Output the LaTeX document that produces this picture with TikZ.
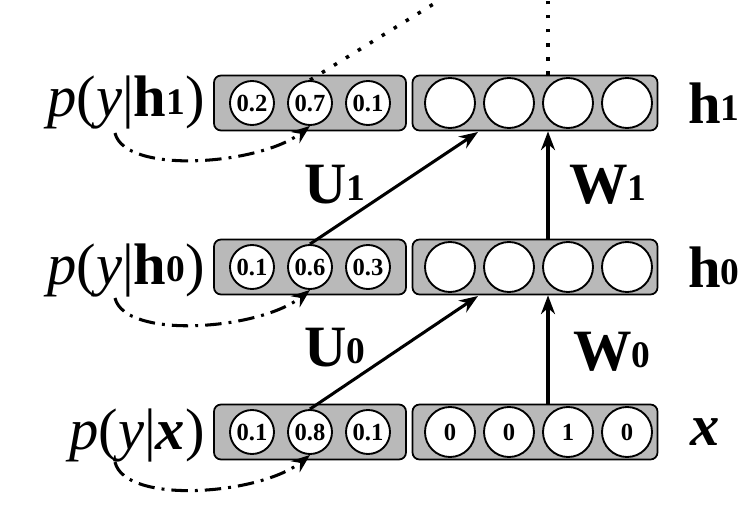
\documentclass[tikz,border=0pt]{standalone}
\usetikzlibrary{arrows.meta}
\usepackage{fontspec}
\setmainfont{Liberation Serif}
\newcommand{\lowsub}[1]{\raisebox{0.05em}{\fontsize{32}{34}\selectfont\bfseries #1}}
\begin{document}
\begin{tikzpicture}[x=0.03cm,y=-0.03cm,
  layer/.style={draw,line width=1.5pt,fill=gray!55,rounded corners=6pt,inner sep=0pt},
  unit/.style={circle,draw,line width=1.6pt,fill=white,minimum size=44*0.03cm,inner sep=0pt,font=\fontsize{21}{22}\selectfont\bfseries},
  big/.style={font=\fontsize{50}{52}\selectfont},
  bigb/.style={font=\fontsize{50}{52}\selectfont\bfseries},
  arr/.style={-{Stealth[length=16pt,width=12pt]},line width=2.6pt},
  dda/.style={-{Stealth[length=16pt,width=12pt]},line width=2.6pt,dash pattern=on 14pt off 6pt on 2.5pt off 6pt}]
\useasboundingbox (0,0) rectangle (755,513);
\coordinate (vx) at (548,0);
\foreach \r/\y in {2/103,1/267,0/432}{
  \node[layer,minimum width=192*0.03cm,minimum height=55*0.03cm] (L\r) at (310,\y) {};
  \node[layer,minimum width=245*0.03cm,minimum height=55*0.03cm] (R\r) at (535,\y) {};
}
\foreach \r/\y/\a/\b/\c in {2/103/0.2/0.7/0.1,1/267/0.1/0.6/0.3,0/432/0.1/0.8/0.1}{
  \node[unit] (p\r a) at (252,\y) {\a};
  \node[unit] (p\r b) at (310,\y) {\b};
  \node[unit] (p\r c) at (368,\y) {\c};
}
\foreach \r/\y/\a/\b/\c/\d in {2/103/{}/{}/{}/{},1/267/{}/{}/{}/{},0/432/0/0/1/0}{
  \node[unit,minimum size=50*0.03cm] (h\r a) at (450,\y) {\a};
  \node[unit,minimum size=50*0.03cm] (h\r b) at (509,\y) {\b};
  \node[unit,minimum size=50*0.03cm] (h\r c) at (568,\y) {\c};
  \node[unit,minimum size=50*0.03cm] (h\r d) at (627,\y) {\d};
}
% labels
\node[big,anchor=east,inner sep=0pt] (q2) at (205,103) {\textit{p}(\textit{y}|\textbf{h}\lowsub{1})};
\node[big,anchor=east,inner sep=0pt] (q1) at (205,270) {\textit{p}(\textit{y}|\textbf{h}\lowsub{0})};
\node[big,anchor=east,inner sep=0pt] (q0) at (205,435) {\textit{p}(\textit{y}|\textbf{\textit{x}})};
\node[bigb,anchor=west,inner sep=0pt] (n2) at (688,103) {h\lowsub{1}};
\node[bigb,anchor=west,inner sep=0pt] (n1) at (688,267) {h\lowsub{0}};
\node[bigb,anchor=west,inner sep=0pt] (n0) at (690,432) {\textit{x}};
% weights
\coordinate (t2) at (478,132);
\coordinate (t1) at (478,296);
\draw[arr] (p1b.north) -- (t2);
\draw[arr] (p0b.north) -- (t1);
\draw[arr] (R1.north -| vx) -- (R2.south -| vx);
\draw[arr] (R0.north -| vx) -- (R1.south -| vx);
\node[bigb] (U1) at (335,185) {U\lowsub{1}};
\node[bigb] (U0) at (335,348) {U\lowsub{0}};
\node[bigb] (W1) at (608,185) {W\lowsub{1}};
\node[bigb] (W0) at (612,352) {W\lowsub{0}};
% dashed predictions
\coordinate (s2) at (115,133);
\coordinate (s1) at (115,298);
\coordinate (s0) at (115,462);
\draw[dda] (s2) .. controls (125,175) and (260,165) .. (p2b.south);
\draw[dda] (s1) .. controls (125,340) and (260,330) .. (p1b.south);
\draw[dda] (s0) .. controls (125,505) and (260,495) .. (p0b.south);
% dotted upward
\coordinate (d1) at (440,0);
\coordinate (d2) at (548,0);
\draw[line width=3pt,dash pattern=on 3pt off 9pt] (p2b.north) -- (d1);
\draw[line width=3pt,dash pattern=on 3pt off 9pt] (R2.north -| vx) -- (d2);
\end{tikzpicture}
\end{document}
